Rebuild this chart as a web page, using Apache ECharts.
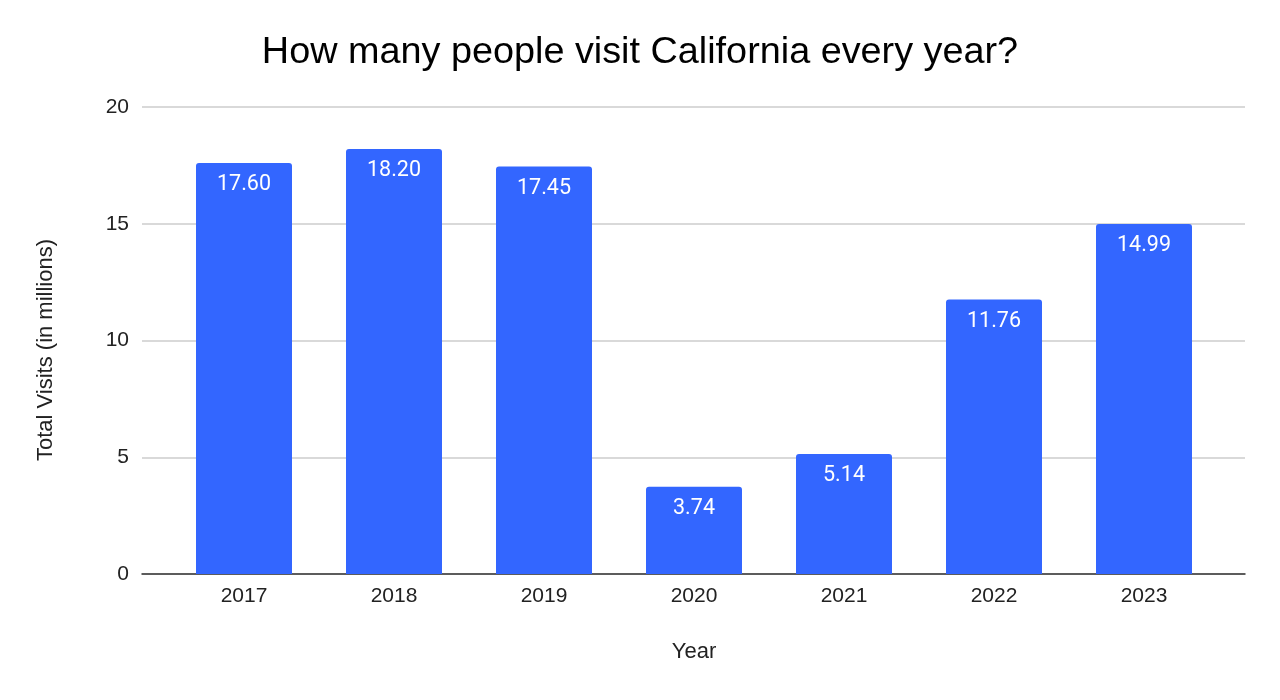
<!DOCTYPE html>
<html><head><meta charset="utf-8">
<script src="https://cdn.jsdelivr.net/npm/echarts@6/dist/echarts.min.js"></script>
<style>html,body{margin:0;padding:0;background:#fff}#c{width:1280px;height:700px}</style>
</head><body><div id="c"></div>
<script>
const categories = ['2017','2018','2019','2020','2021','2022','2023'];
const visits = [17.60, 18.20, 17.45, 3.74, 5.14, 11.76, 14.99];
const yTicks = [0, 5, 10, 15, 20];
const titleText = 'How many people visit California every year?';
const xName = 'Year';
const yName = 'Total Visits (in millions)';

const chart = echarts.init(document.getElementById('c'));
chart.setOption({
  animation: false,
  backgroundColor: '#fff',
  title: {
    text: titleText, left: 'center', top: 29,
    textStyle: {fontFamily: 'Liberation Sans, Arial', fontSize: 37.8, fontWeight: 'normal', color: '#000'}
  },
  graphic: [
    {type: 'text', x: 694, y: 652, style: {text: xName, font: '22px "Liberation Sans", Arial', fill: '#222', align: 'center', verticalAlign: 'middle'}},
    {type: 'text', x: 46, y: 350, rotation: Math.PI/2, style: {text: yName, font: '22px "Liberation Sans", Arial', fill: '#222', align: 'center', verticalAlign: 'middle'}}
  ],
  grid: [
    {left: 142, right: 35, top: 107, bottom: 126},
    {left: 169, right: 61, top: 107, bottom: 126}
  ],
  xAxis: [
    {type: 'category', gridIndex: 0, data: categories, axisLine: {show: true, lineStyle: {color: '#333', width: 1.5}}, axisTick: {show: false}, axisLabel: {show: false}},
    {type: 'category', gridIndex: 1, data: categories, axisLine: {show: false}, axisTick: {show: false},
      axisLabel: {margin: 12, fontFamily: 'Liberation Sans, Arial', fontSize: 21, color: '#222'}}
  ],
  yAxis: [
    {type: 'value', gridIndex: 0, min: yTicks[0], max: yTicks[yTicks.length-1], interval: 5,
      axisLine: {show: false}, axisTick: {show: false},
      axisLabel: {margin: 13, fontFamily: 'Liberation Sans, Arial', fontSize: 21, color: '#222'},
      splitLine: {lineStyle: {color: '#cccccc', width: 1.5}}},
    {type: 'value', gridIndex: 1, min: 0, max: 20, interval: 5, show: false, splitLine: {show: false}}
  ],
  series: [{
    type: 'bar', xAxisIndex: 1, yAxisIndex: 1, data: visits, barWidth: 96,
    itemStyle: {color: '#3366ff', borderRadius: [3,3,0,0]},
    label: {show: true, position: 'insideTop', distance: 11, color: '#fff', fontFamily: 'Roboto', fontSize: 21.5,
      formatter: p => p.value.toFixed(2)}
  }]
});
</script></body></html>
